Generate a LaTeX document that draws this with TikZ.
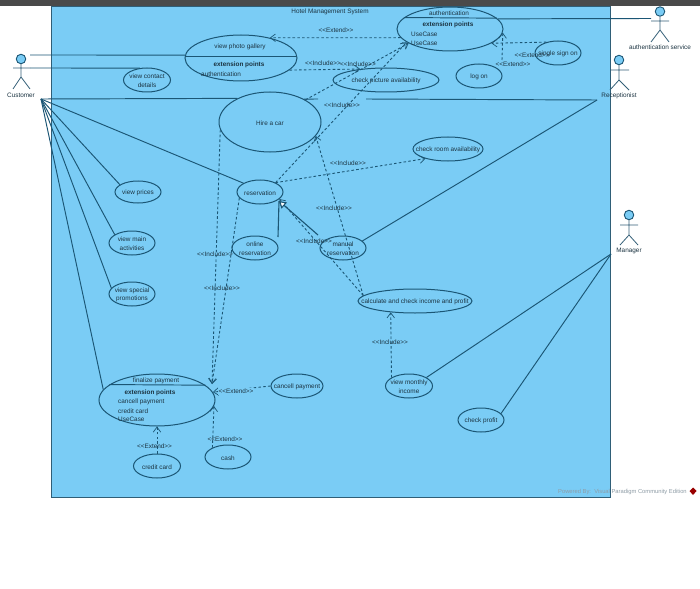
\documentclass[tikz,border=0pt]{standalone}
\usepackage{fontspec}
\setmainfont{Liberation Sans}
\usetikzlibrary{shapes.geometric,arrows.meta}
\definecolor{sysfill}{HTML}{7ACCF5}
\definecolor{lineC}{HTML}{1B5675}
\definecolor{txtC}{HTML}{1C3442}
\definecolor{barC}{HTML}{4A4A4A}
\definecolor{markC}{HTML}{8E9CA6}
\newcommand{\stIn}{<{}<Include>{}>}
\newcommand{\stEx}{<{}<Extend>{}>}
\tikzset{
  txt/.style={inner sep=0pt,text=txtC,font=\fontsize{6.4}{8.8}\selectfont,align=center,yshift=-0.8pt},
  boldtxt/.style={txt,font=\fontsize{6.4}{8.8}\selectfont\bfseries},
  ltxt/.style={txt,anchor=west},
  uc/.style 2 args={ellipse,draw=lineC,line width=1pt,minimum width=#1pt,minimum height=#2pt,inner sep=0pt},
  assoc/.style={draw=lineC,line width=0.95pt},
  dep/.style={draw=lineC,line width=0.9pt,dash pattern=on 2.6pt off 2.2pt,-{Straight Barb[length=5pt,width=7.5pt,line width=0.7pt]}},
  gen/.style={draw=lineC,line width=1.1pt},
  tag/.style={txt},
  tagbg/.style={txt,fill=sysfill,inner ysep=1pt,inner xsep=1pt},
  actorpart/.style={draw=lineC!75!gray,line width=0.8pt},
  head/.style={circle,draw=lineC,line width=0.9pt,fill=sysfill,minimum size=9.5pt,inner sep=0pt},
}
\begin{document}
\begin{tikzpicture}[x=1pt,y=-1pt]
\useasboundingbox (0,0) rectangle (700,588);
\fill[white] (0,0) rectangle (700,588);
\fill[barC] (0,0) rectangle (700,6);
\node[draw=lineC!80!gray,fill=sysfill,line width=1pt,minimum width=559pt,minimum height=491pt,inner sep=0pt,anchor=north west] (system) at (51,6) {};
\node[txt] (title) at (330,11) {Hotel Management System};

% use cases
\node[uc={106}{44}] (auth) at (450,29) {};
\node[uc={112}{46}] (gallery) at (241,58) {};
\node[uc={47}{24},label={[txt]center:view contact\\details}] (contact) at (147,80) {};
\node[uc={106}{24},label={[txt]center:check picture availability}] (picture) at (386,80) {};
\node[uc={46}{24},label={[txt]center:log on}] (logon) at (479,76) {};
\node[uc={46}{24},label={[txt]center:single sign on}] (sign) at (558,53) {};
\node[uc={102}{60},label={[txt]center:Hire a car}] (hire) at (270,122) {};
\node[uc={70}{24},label={[txt]center:check room availability}] (room) at (448,149) {};
\node[uc={46}{24},label={[txt]center:reservation}] (res) at (260,192) {};
\node[uc={46}{24},label={[txt]center:online\\reservation}] (online) at (255,248) {};
\node[uc={46}{24},label={[txt]center:manual\\reservation}] (manual) at (343,248) {};
\node[uc={114}{24},label={[txt]center:calculate and check income and profit}] (calc) at (415,301) {};
\node[uc={47}{24},label={[txt]center:view monthly\\income}] (monthly) at (409,386) {};
\node[uc={46}{24},label={[txt]center:check profit}] (profit) at (481,420) {};
\node[uc={52}{24},label={[txt]center:cancell payment}] (cancel) at (297,386) {};
\node[uc={116}{52}] (final) at (157,400) {};
\node[uc={47}{24},label={[txt]center:credit card}] (credit) at (157,466) {};
\node[uc={46}{24},label={[txt]center:cash}] (cash) at (228,457) {};
\node[uc={46}{22},label={[txt]center:view prices}] (prices) at (138,192) {};
\node[uc={46}{24},label={[txt]center:view main\\activities}] (mainact) at (132,243) {};
\node[uc={46}{24},label={[txt]center:view special\\promotions}] (special) at (132,294) {};

% compartments
\draw[assoc] (auth.166.5) -- (auth.13.5);
\draw[assoc] (gallery.178) -- (gallery.2);
\draw[assoc] (final.162.4) -- (final.17.6);
\node[txt] (authT) at (449,12.5) {authentication};
\node[boldtxt] (authE) at (448,24) {extension points};
\node[ltxt] (authU1) at (411,33) {UseCase};
\node[ltxt] (authU2) at (411,42) {UseCase};
\node[txt] (galT) at (240,46) {view photo gallery};
\node[boldtxt] (galE) at (239,64) {extension points};
\node[ltxt] (galA) at (201,73) {authentication};
\node[txt] (finT) at (156,380) {finalize payment};
\node[boldtxt] (finE) at (150,392.5) {extension points};
\node[ltxt] (finC) at (118,401) {cancell payment};
\node[ltxt] (finD) at (118,410) {credit card};
\node[ltxt] (finU) at (118,418.5) {UseCase};

% actors
\node[head] (custH) at (21,59) {};
\draw[actorpart] (custH.south) -- (21,77) (13,68) -- (30,68) (13,89) -- (21,77) -- (30,89);
\node[txt] (custL) at (21,94) {Customer};
\node[head] (svcH) at (660,11.5) {};
\draw[actorpart] (svcH.south) -- (660,30) (651,21) -- (669,21) (651,42) -- (660,30) -- (669,42);
\node[txt] (svcL) at (660,46.5) {authentication service};
\node[head] (recH) at (619,60) {};
\draw[actorpart] (recH.south) -- (619,80) (610,70) -- (629,70) (610,90) -- (619,80) -- (629,90);
\node[txt] (recL) at (619,95) {Receptionist};
\node[head] (mgrH) at (629,215) {};
\draw[actorpart] (mgrH.south) -- (629,235) (620,225) -- (638,225) (620,245) -- (629,235) -- (638,245);
\node[txt] (mgrL) at (629,250) {Manager};

% free ends
\coordinate (custA) at (30,55);
\coordinate (custB) at (30,68);
\coordinate (custApex) at (41,99);
\coordinate (recApex) at (597,100);
\coordinate (recStub) at (366,99);
\coordinate (hireStub) at (318,99);
\coordinate (mgrApex) at (611,254);
\coordinate (svcEnd) at (651,18.5);
\coordinate (finTip) at (212,384);
\coordinate (genTip) at (279,201);
\coordinate (onlineEnd) at (278,237);
\coordinate (manEnd) at (318,235);
\coordinate (logTop) at (502,60);

% associations
\draw[assoc] (custA) -- (gallery.177);
\draw[assoc] (custB) -- (contact.121);
\draw[assoc] (custApex) -- (hire.144.3);
\draw[assoc] (hire.34.9) -- (hireStub);
\draw[assoc] (recApex) -- (recStub);
\draw[assoc] (custApex) -- (res.152.1);
\draw[assoc] (custApex) -- (prices.158.7);
\draw[assoc] (custApex) -- (mainact.154.8);
\draw[assoc] (custApex) -- (special.164);
\draw[assoc] (custApex) -- (final.169.7);
\draw[assoc] (recApex) -- (manual.20.2);
\draw[assoc] (mgrApex) -- (monthly.26.6);
\draw[assoc] (mgrApex) -- (profit.18.4);
\draw[assoc] (svcEnd) -- (auth.12.7);

% dependencies
\draw[dep] (auth.190.6) -- (gallery.35.5);
\draw[dep] (gallery.-14.1) -- (picture.157.4);
\draw[dep] (hire.32.2) -- (auth.199);
\draw[dep] (res.31) -- (auth.197);
\draw[dep] (res.31) -- (room.203.2);
\draw[dep] (calc.174.8) -- (hire.-17);
\draw[dep] (calc.174.8) -- (res.-20.2);
\draw[dep] (hire.189) -- (finTip);
\draw[dep] (res.196.7) -- (finTip);
\draw[dep] (cancel.180) -- (final.8.1);
\draw[dep] (cash.149) -- (final.-6.1);
\draw[dep] (credit.90) -- (final.-90);
\draw[dep] (monthly.154.8) -- (calc.205.6);
\draw[dep] (logTop) -- (auth.-4.4);
\draw[dep] (sign.137.7) -- (auth.-19.3);

% generalizations
\draw[gen] (onlineEnd) -- (genTip);
\draw[gen,-{Triangle[open,fill=white,length=7pt,width=8pt]}] (manEnd) -- (genTip);

% labels
\node[tag] (t1) at (336,29.5) {\stEx};
\node[tag] (t2) at (323,62) {\stIn};
\node[tag] (t3) at (358,63.5) {\stIn};
\node[tag] (t4) at (342,104.5) {\stIn};
\node[tag] (t5) at (348,162) {\stIn};
\node[tag] (t6) at (334,207) {\stIn};
\node[tag] (t7) at (314,240) {\stIn};
\node[tag] (t8) at (215,253) {\stIn};
\node[tag] (t9) at (222,287) {\stIn};
\node[tag] (t10) at (390,341.5) {\stIn};
\node[tagbg] (t11) at (236,390.5) {\stEx};
\node[tag] (t12) at (225,438) {\stEx};
\node[tag] (t13) at (154.5,445) {\stEx};
\node[tag] (t14) at (513,63.5) {\stEx};
\node[tag] (t15) at (532,54) {\stEx};

% watermark
\node[inner sep=0pt,anchor=west,text=markC,font=\fontsize{5.8}{6}\selectfont] (mark) at (558,491.5) {Powered By:\ \ Visual Paradigm Community Edition};
\fill[red!60!black] (693,487.5) -- (696.5,491) -- (693,495) -- (689.5,491) -- cycle;
\end{tikzpicture}
\end{document}
